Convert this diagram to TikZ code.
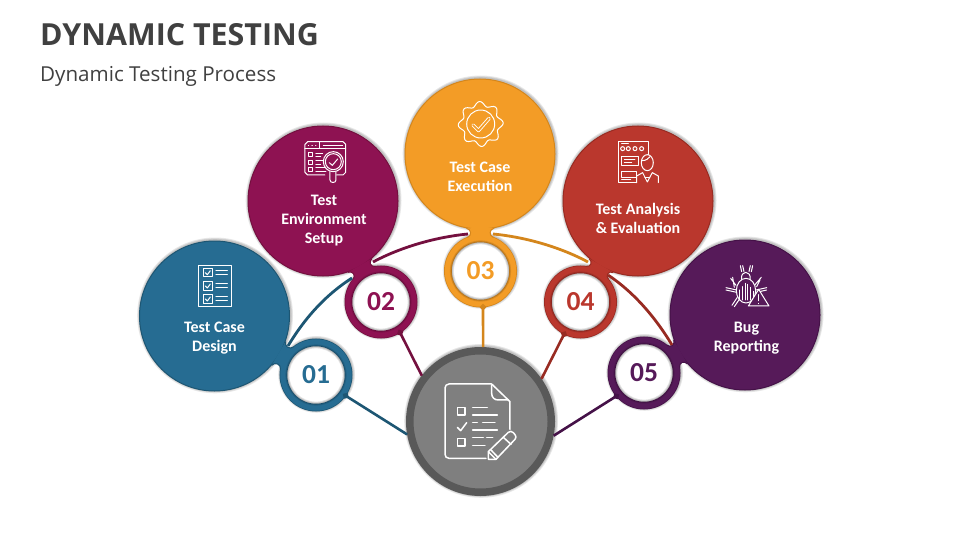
\documentclass[tikz,border=0pt]{standalone}
\usepackage{fontspec}
\setmainfont{Carlito}
\newfontfamily\titlefont{Open Sans}
\usetikzlibrary{calc,arrows.meta,backgrounds}
\definecolor{cA}{HTML}{266C92}\definecolor{dA}{HTML}{1D5673}
\definecolor{cB}{HTML}{8E1252}\definecolor{dB}{HTML}{74103F}
\definecolor{cC}{HTML}{F39C26}\definecolor{dC}{HTML}{D4861C}
\definecolor{cD}{HTML}{BA372D}\definecolor{dD}{HTML}{982B22}
\definecolor{cE}{HTML}{561A59}\definecolor{dE}{HTML}{451248}
\definecolor{hubfill}{HTML}{7F7F7F}\definecolor{hubring}{HTML}{595959}
\definecolor{titlegray}{HTML}{404040}
\tikzset{
 bigc/.style 2 args={circle,inner sep=0pt,minimum size=150,fill=#1,draw=#2,line width=1},
 smallc/.style 2 args={circle,inner sep=0pt,minimum size=64.5,fill=white,draw=#1,line width=7,text=#1,
   font=\fontsize{27.5}{28}\selectfont\bfseries,preaction={draw=#2,line width=8.5}},
 hubc/.style={circle,inner sep=0pt,minimum size=141.5,fill=hubfill,draw=hubring,line width=7.5},
 label/.style={text=white,align=center,font=\fontsize{16}{19}\selectfont\bfseries},
 spoke/.style={line width=2.6,{Circle[length=6pt,width=6pt]}-,shorten <=-2.5pt},
 arcline/.style={line width=2.8},
 ic/.style={draw=white,line width=1,line cap=round,line join=round},
 hubic/.style={draw=white,line width=1.5,line cap=round,line join=round},
}
\newcommand\softshadow[2]{\foreach \d in {0.7,1.5,2.4}{\fill[black,opacity=.09] ([shift={(0.6pt,0.6pt)}]#1.center) circle ({#2+\d});}}
\newcommand\innerrim[1]{\foreach \d in {0.5,1.2,2}{\draw[black,opacity=.10,line width=\d*2] (#1.center) circle (28.6);}}
\newcommand\necklink[4]{%
 \fill[#3] ($(#1.center)!75.5pt!10.6:(#2.center)$) .. controls ($(#1.center)!75.67pt!6.8:(#2.center)$) and ($(#2.center)!36.35pt!-13.1:(#1.center)$) .. ($(#2.center)!36pt!-21:(#1.center)$)
  -- ($(#2.center)!36pt!21:(#1.center)$) .. controls ($(#2.center)!36.35pt!13.1:(#1.center)$) and ($(#1.center)!75.67pt!-6.8:(#2.center)$) .. ($(#1.center)!75.5pt!-10.6:(#2.center)$) -- cycle;
 \draw[#4,line width=1] ($(#1.center)!75.5pt!10.6:(#2.center)$) .. controls ($(#1.center)!75.67pt!6.8:(#2.center)$) and ($(#2.center)!36.35pt!-13.1:(#1.center)$) .. ($(#2.center)!36pt!-21:(#1.center)$);
 \draw[#4,line width=1] ($(#2.center)!36pt!21:(#1.center)$) .. controls ($(#2.center)!36.35pt!13.1:(#1.center)$) and ($(#1.center)!75.67pt!-6.8:(#2.center)$) .. ($(#1.center)!75.5pt!-10.6:(#2.center)$);
}
\begin{document}
\begin{tikzpicture}[x=1pt,y=-1pt]
\useasboundingbox (0,0) rectangle (960,540);
% titles
\node[anchor=base west,inner sep=0pt,text=titlegray,font=\fontsize{30.4}{36}\selectfont\titlefont\bfseries] (title) at (40,45.5) {DYNAMIC TESTING};
\node[anchor=base west,inner sep=0pt,text=titlegray,font=\fontsize{20.6}{24}\selectfont\titlefont] (subtitle) at (40,81.5) {Dynamic Testing Process};
% big circles
\node[bigc={cA}{dA}] (b1) at (214.5,316) {};
\node[bigc={cB}{dB}] (b2) at (323,201) {};
\node[bigc={cC}{dC}] (b3) at (480,154) {};
\node[bigc={cD}{dD}] (b4) at (638,201) {};
\node[bigc={cE}{dE}] (b5) at (745,315) {};
% small circles
\node[smallc={cA}{dA}] (s1) at (316,375) {01};
\node[smallc={cB}{dB}] (s2) at (381,302) {02};
\node[smallc={cC}{dC}] (s3) at (480.5,271) {03};
\node[smallc={cD}{dD}] (s4) at (580.5,302) {04};
\node[smallc={cE}{dE}] (s5) at (644,373) {05};
% hub
\node[hubc] (hub) at (480.5,421.5) {};
% shadows
\begin{scope}[on background layer]
 \foreach \n in {b1,b2,b3,b4,b5}{\softshadow{\n}{75.5}}
 \foreach \n in {s1,s2,s3,s4,s5}{\softshadow{\n}{36}}
 \softshadow{hub}{74.5}
\end{scope}
\foreach \n in {s1,s2,s3,s4,s5}{\innerrim{\n}}
% necks
\necklink{b1}{s1}{cA}{dA}
\necklink{b2}{s2}{cB}{dB}
\necklink{b3}{s3}{cC}{dC}
\necklink{b4}{s4}{cD}{dD}
\necklink{b5}{s5}{cE}{dE}
% spokes
\draw[spoke,dA] (s1.-35) -- (hub.190);
\draw[spoke,dB] (s2.-58) -- (hub.142);
\draw[spoke,dC] (s3.-86) -- (hub.88);
\draw[spoke,dD] (s4.-117) -- (hub.35);
\draw[spoke,dE] (s5.-140) -- (hub.-11);
% arcs
\coordinate (k1a) at (288,346); \coordinate (k1b) at (352,278);
\coordinate (k2a) at (373,262); \coordinate (k2b) at (468,234);
\coordinate (k3a) at (493,234); \coordinate (k3b) at (588,262);
\coordinate (k4a) at (608,275); \coordinate (k4b) at (672,345);
\draw[arcline,dA] (k1a) .. controls (306,316) and (327,294) .. (k1b);
\draw[arcline,dB] (k2a) .. controls (401,247) and (436,237) .. (k2b);
\draw[arcline,dC] (k3a) .. controls (525,237) and (560,247) .. (k3b);
\draw[arcline,dD] (k4a) .. controls (632,291) and (654,315) .. (k4b);
% labels
\node[label] (t1) at (214.5,338) {Test Case\\Design};
\node[label] (t2) at (324,221) {Test\\Environment\\Setup};
\node[label] (t3) at (480,177.3) {Test Case\\Execution};
\node[label] (t4) at (638,218.7) {Test Analysis\\\&\ Evaluation};
\node[label] (t5) at (746.5,338) {Bug\\Reporting};
% icon 1
\begin{scope}[shift={(130,230)},x=.3333pt,y=-.3333pt]
 \draw[ic] (205,107) rectangle (305,230);
 \foreach \y in {128,168,207}{
  \draw[ic] (220,\y-13) rectangle (247,\y+13);
  \draw[ic] (226,\y) -- (232,\y+6) -- (241,\y-6);
  \draw[ic] (258,\y-6) -- (292,\y-6) (258,\y+5) -- (292,\y+5);
 }
\end{scope}
% icon 2
\begin{scope}[shift={(170,130)},x=.3333pt,y=-.3333pt]
 \draw[ic] (465,135) -- (413,135) -- (405,127) -- (405,43) -- (413,35) -- (519,35) -- (527,43) -- (527,127) -- (519,135) -- (500,135);
 \draw[ic] (405,55) -- (527,55) (450,35) -- (450,55);
 \draw[ic] (415,46) -- (416,46) (426,46) -- (427,46) (437,46) -- (438,46);
 \draw[ic] (460,46) -- (518,46);
 \foreach \y in {75,97,118}{\draw[ic] (415,\y-6) rectangle (428,\y+6);}
 \draw[ic] (438,70) -- (458,70) (438,81) -- (452,81) (438,92) -- (458,92) (438,103) -- (452,103) (438,114) -- (466,114) (438,125) -- (468,125);
 \draw[ic,fill=cB] (490,95) circle (30);
 \draw[ic] (490,95) circle (24);
 \draw[ic] (478,98) -- (487,106) -- (503,87);
 \draw[ic] (480,125) -- (480,150) .. controls (480,160) and (498,160) .. (498,150) -- (498,125);
\end{scope}
% icon 3
\begin{scope}
 \draw[ic] plot[smooth cycle,samples=81,domain=0:355.5,variable=\t] ({480.7+(20.2+2.3*cos(8*\t+22.5))*cos(\t)},{124+(20.2+2.3*cos(8*\t+22.5))*sin(\t)});
 \draw[ic] (480.7,124) circle (14);
 \draw[line width=.9,draw=white,double=cC,double distance=1.7,line join=round,line cap=round] (473,125) -- (478.5,130.5) -- (489,118.5);
\end{scope}
% icon 4
\begin{scope}[shift={(290,90)},x=.3333pt,y=-.3333pt]
 \draw[ic] (1040,278) -- (985,278) -- (985,155) -- (1075,155) -- (1075,195);
 \draw[ic] (995,160) -- (1015,160);
 \foreach \x in {998,1015,1035,1055}{\draw[ic] (\x,176) circle (6);}
 \draw[ic] (995,200) rectangle (1045,228);
 \draw[ic] (1003,210) -- (1035,210) (1003,218) -- (1025,218);
 \draw[ic] (995,245) rectangle (1040,262);
 \draw[ic] (995,270) -- (1022,270);
 \draw[ic,fill=cD] (1072,218) ellipse (18 and 24);
 \draw[ic] (1056,212) .. controls (1070,212) and (1075,205) .. (1080,200);
 \draw[ic] (1040,278) -- (1040,258) -- (1058,248) -- (1072,276) -- (1087,248) -- (1105,258) -- (1105,278);
 \draw[ic] (1065,262) -- (1079,262);
\end{scope}
% icon 5
\begin{scope}[shift={(600,250)},x=.3333pt,y=-.3333pt]
 \draw[ic] (438,122) ellipse (29 and 37);
 \draw[ic] (425,88) .. controls (420,60) and (455,60) .. (450,88);
 \draw[ic] (425,65) -- (421,47) (432,65) -- (428,47) (447,65) -- (451,47) (454,65) -- (458,47);
 \draw[ic] (408,106) -- (392,85) (403,112) -- (398,82);
 \draw[ic] (410,120) -- (378,113) (410,127) -- (378,120);
 \draw[ic] (412,142) -- (396,166) (418,148) -- (403,170);
 \draw[ic] (465,104) -- (484,82) (470,110) -- (480,90);
 \draw[ic] (468,120) -- (500,113) (470,127) -- (500,120);
 \foreach \x/\b in {420/120,428/110,436/100,444/103,452/112,460/124}{\draw[ic] (\x,\b) -- (\x,150);}
 \draw[ic,fill=cE] (445,168) -- (476,118) -- (507,168) -- cycle;
 \draw[ic] (476,134) -- (476,152) (476,160) -- (476,161);
\end{scope}
% hub icon
\begin{scope}[shift={(400,340)},x=.3333pt,y=-.3333pt]
 \draw[hubic] (258,355) -- (147,355) .. controls (140,355) and (135,350) .. (135,343) -- (135,144) .. controls (135,137) and (140,132) .. (147,132) -- (275,132) -- (330,185) -- (330,268);
 \draw[hubic] (275,135) -- (275,160) .. controls (275,172) and (283,180) .. (295,180) -- (325,180);
 \draw[hubic] (172,202) rectangle (195,225) (172,295) rectangle (195,318);
 \draw[hubic] (172,262) -- (182,272) -- (200,248);
 \draw[hubic] (218,202) -- (262,202) (218,225) -- (292,225) (218,247) -- (232,247) (248,247) -- (285,247) (218,270) -- (292,270) (218,293) -- (250,293) (260,293) -- (278,293) (218,317) -- (255,317);
 \draw[hubic] (265,358) -- (265,335) -- (325,277) .. controls (330,273) and (335,273) .. (340,278) -- (345,284) .. controls (349,289) and (349,293) .. (345,298) -- (288,358) -- cycle;
 \draw[hubic] (310,292) -- (333,313) (265,335) -- (288,358) (273,330) -- (292,350);
\end{scope}
\end{tikzpicture}
\end{document}
